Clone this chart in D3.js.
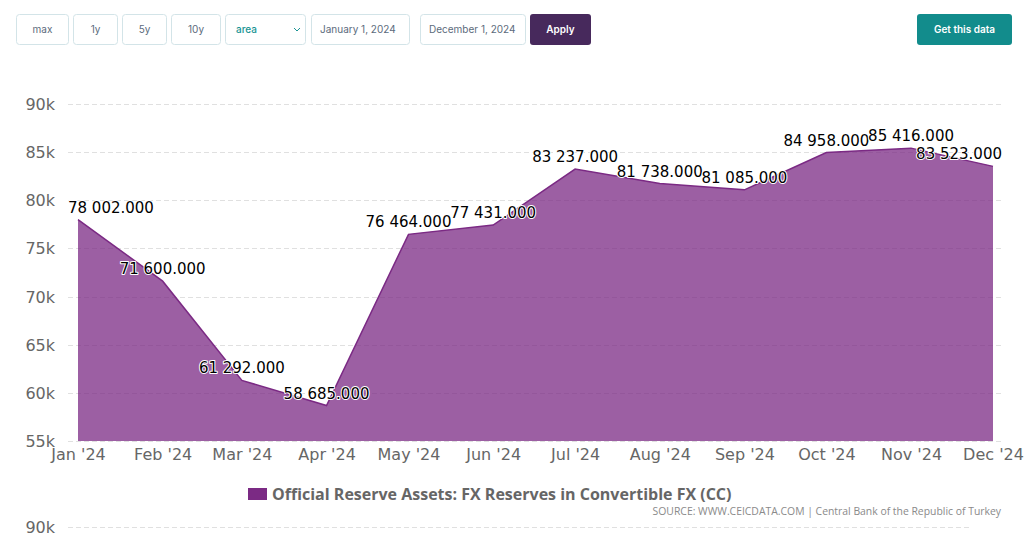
<!DOCTYPE html>
<html>
<head>
<meta charset="utf-8">
<script src="https://cdn.jsdelivr.net/npm/d3@7"></script>
<style>
  body { margin: 0; background: #fff; }
  svg { display: block; }
</style>
</head>
<body>
<svg id="chart" width="1024" height="543"></svg>
<script>
const months = ["2024-01-01", "2024-02-01", "2024-03-01", "2024-04-01", "2024-05-01", "2024-06-01",
  "2024-07-01", "2024-08-01", "2024-09-01", "2024-10-01", "2024-11-01", "2024-12-01"];
const reserves = [78002, 71600, 61292, 58685, 76464, 77431, 83237, 81738, 81085, 84958, 85416, 83523];
const yTicks = [55000, 60000, 65000, 70000, 75000, 80000, 85000, 90000];
const seriesName = "Official Reserve Assets: FX Reserves in Convertible FX (CC)";
const sourceText = "SOURCE: WWW.CEICDATA.COM | Central Bank of the Republic of Turkey";
const rangeButtons = ["max", "1y", "5y", "10y"];
const dateFrom = "January 1, 2024", dateTo = "December 1, 2024";

const parse = d3.utcParse("%Y-%m-%d");
const data = months.map((m, i) => ({date: parse(m), value: reserves[i]}));

let svg = d3.select("#chart");
let plot = {left: 68, right: 1002, top: 104, bottom: 441};

let scales = {
  x: d3.scaleUtc()
    .domain(d3.extent(data, d => d.date))
    .range([78, 993]),
  y: d3.scaleLinear()
    .domain([55000, 90000])
    .range([plot.bottom, plot.top])
};

// --- toolbar ---
let bar = svg.append("g").attr("font-family", "Inter, 'Noto Sans', sans-serif").attr("font-size", 10);
let btnX = [16, 73, 122, 171], btnW = [52, 44, 44, 49];
rangeButtons.forEach((b, i) => {
  bar.append("rect")
    .attr("x", btnX[i] + 0.5).attr("y", 14.5).attr("width", btnW[i]).attr("height", 30)
    .attr("rx", 3).attr("fill", "#fff").attr("stroke", "#d3e4e8");
  bar.append("text")
    .attr("x", btnX[i] + btnW[i] / 2 + 0.5).attr("y", 33).attr("text-anchor", "middle")
    .attr("fill", "#5c6b7c").text(b);
});
bar.append("rect").attr("x", 225.5).attr("y", 14.5).attr("width", 80).attr("height", 30)
  .attr("rx", 3).attr("fill", "#fff").attr("stroke", "#d3e4e8");
bar.append("text").attr("x", 236).attr("y", 33).attr("fill", "#1a9494").attr("font-weight", 500).text("area");
bar.append("path").attr("d", "M294,28 l3,3 l3,-3").attr("fill", "none").attr("stroke", "#1a9494").attr("stroke-width", 1);
[[311, 98, dateFrom], [420, 105, dateTo]].forEach(([x, w, t]) => {
  bar.append("rect").attr("x", x + 0.5).attr("y", 14.5).attr("width", w).attr("height", 30)
    .attr("rx", 3).attr("fill", "#fff").attr("stroke", "#d3e4e8");
  bar.append("text").attr("x", x + 9).attr("y", 33).attr("fill", "#5c6b7c").text(t);
});
bar.append("rect").attr("x", 530).attr("y", 14).attr("width", 61).attr("height", 31)
  .attr("rx", 3).attr("fill", "#47295c");
bar.append("text").attr("x", 560.5).attr("y", 33).attr("text-anchor", "middle")
  .attr("fill", "#fff").attr("font-weight", 600).text("Apply");
bar.append("rect").attr("x", 917).attr("y", 14).attr("width", 95).attr("height", 31)
  .attr("rx", 3).attr("fill", "#128c8c");
bar.append("text").attr("x", 964.5).attr("y", 33).attr("text-anchor", "middle")
  .attr("fill", "#fff").attr("font-weight", 600).text("Get this data");

// --- grid & y axis ---
let font = "'DejaVu Sans', Verdana, sans-serif";
let grid = svg.append("g");
grid.selectAll("line").data(yTicks).enter().append("line")
  .attr("x1", plot.left).attr("x2", plot.right)
  .attr("y1", d => Math.round(scales.y(d)) + 0.5).attr("y2", d => Math.round(scales.y(d)) + 0.5)
  .attr("stroke", "#e0e0e0").attr("stroke-dasharray", "5,3");

svg.append("g").selectAll("text").data(yTicks).enter().append("text")
  .attr("x", 55).attr("y", d => scales.y(d) + 6)
  .attr("text-anchor", "end").attr("font-family", font).attr("font-size", 16)
  .attr("fill", "#666").text(d => d / 1000 + "k");

// --- area ---
let area = d3.area()
  .x(d => scales.x(d.date))
  .y0(plot.bottom)
  .y1(d => scales.y(d.value));
let line = d3.line()
  .x(d => scales.x(d.date))
  .y(d => scales.y(d.value));

svg.append("path").datum(data).attr("d", area)
  .attr("fill", "#7b2a84").attr("fill-opacity", 0.75);
svg.append("path").datum(data).attr("d", line)
  .attr("fill", "none").attr("stroke", "#7b2a84").attr("stroke-width", 1.5);

// --- x axis ---
let xAxis = d3.axisBottom(scales.x)
  .tickValues(data.map(d => d.date))
  .tickFormat(d3.utcFormat("%b '%y"))
  .tickSize(0).tickPadding(8);
let gx = svg.append("g").attr("transform", `translate(0, ${plot.bottom})`).call(xAxis);
gx.select(".domain").remove();
gx.selectAll("text").attr("font-family", font).attr("font-size", 16).attr("fill", "#666");

// --- data labels ---
let fmt = v => d3.format(",.3f")(v).replace(/,/g, " ");
let labels = svg.append("g").attr("font-family", font).attr("font-size", 15);
labels.selectAll("text").data(data).enter().append("text")
  .attr("y", d => scales.y(d.value) - 7)
  .attr("fill", "#000").attr("stroke", "#fff").attr("stroke-width", 2)
  .attr("stroke-linejoin", "round").attr("paint-order", "stroke")
  .text(d => fmt(d.value))
  .each(function (d) {
    let w = this.getComputedTextLength();
    let x = scales.x(d.date) - w / 2;
    x = Math.max(plot.left, Math.min(plot.right - w, x));
    d3.select(this).attr("x", x);
  });

// --- legend ---
svg.append("rect").attr("x", 248).attr("y", 488).attr("width", 19).attr("height", 12).attr("fill", "#7b2a84");
svg.append("text").attr("x", 272).attr("y", 500)
  .attr("font-family", "'Open Sans', sans-serif").attr("font-weight", 700).attr("font-size", 16)
  .attr("fill", "#666").text(seriesName);
svg.append("text").attr("x", 1001).attr("y", 515).attr("text-anchor", "end")
  .attr("font-family", "'Open Sans', sans-serif").attr("font-size", 10.4)
  .attr("fill", "#8a8a8a").text(sourceText);

// --- next chart peeking in ---
svg.append("line").attr("x1", plot.left).attr("x2", 972).attr("y1", 527.5).attr("y2", 527.5)
  .attr("stroke", "#e0e0e0").attr("stroke-dasharray", "5,3");
svg.append("text").attr("x", 55).attr("y", 533).attr("text-anchor", "end")
  .attr("font-family", font).attr("font-size", 16).attr("fill", "#666").text("90k");
</script>
</body>
</html>
